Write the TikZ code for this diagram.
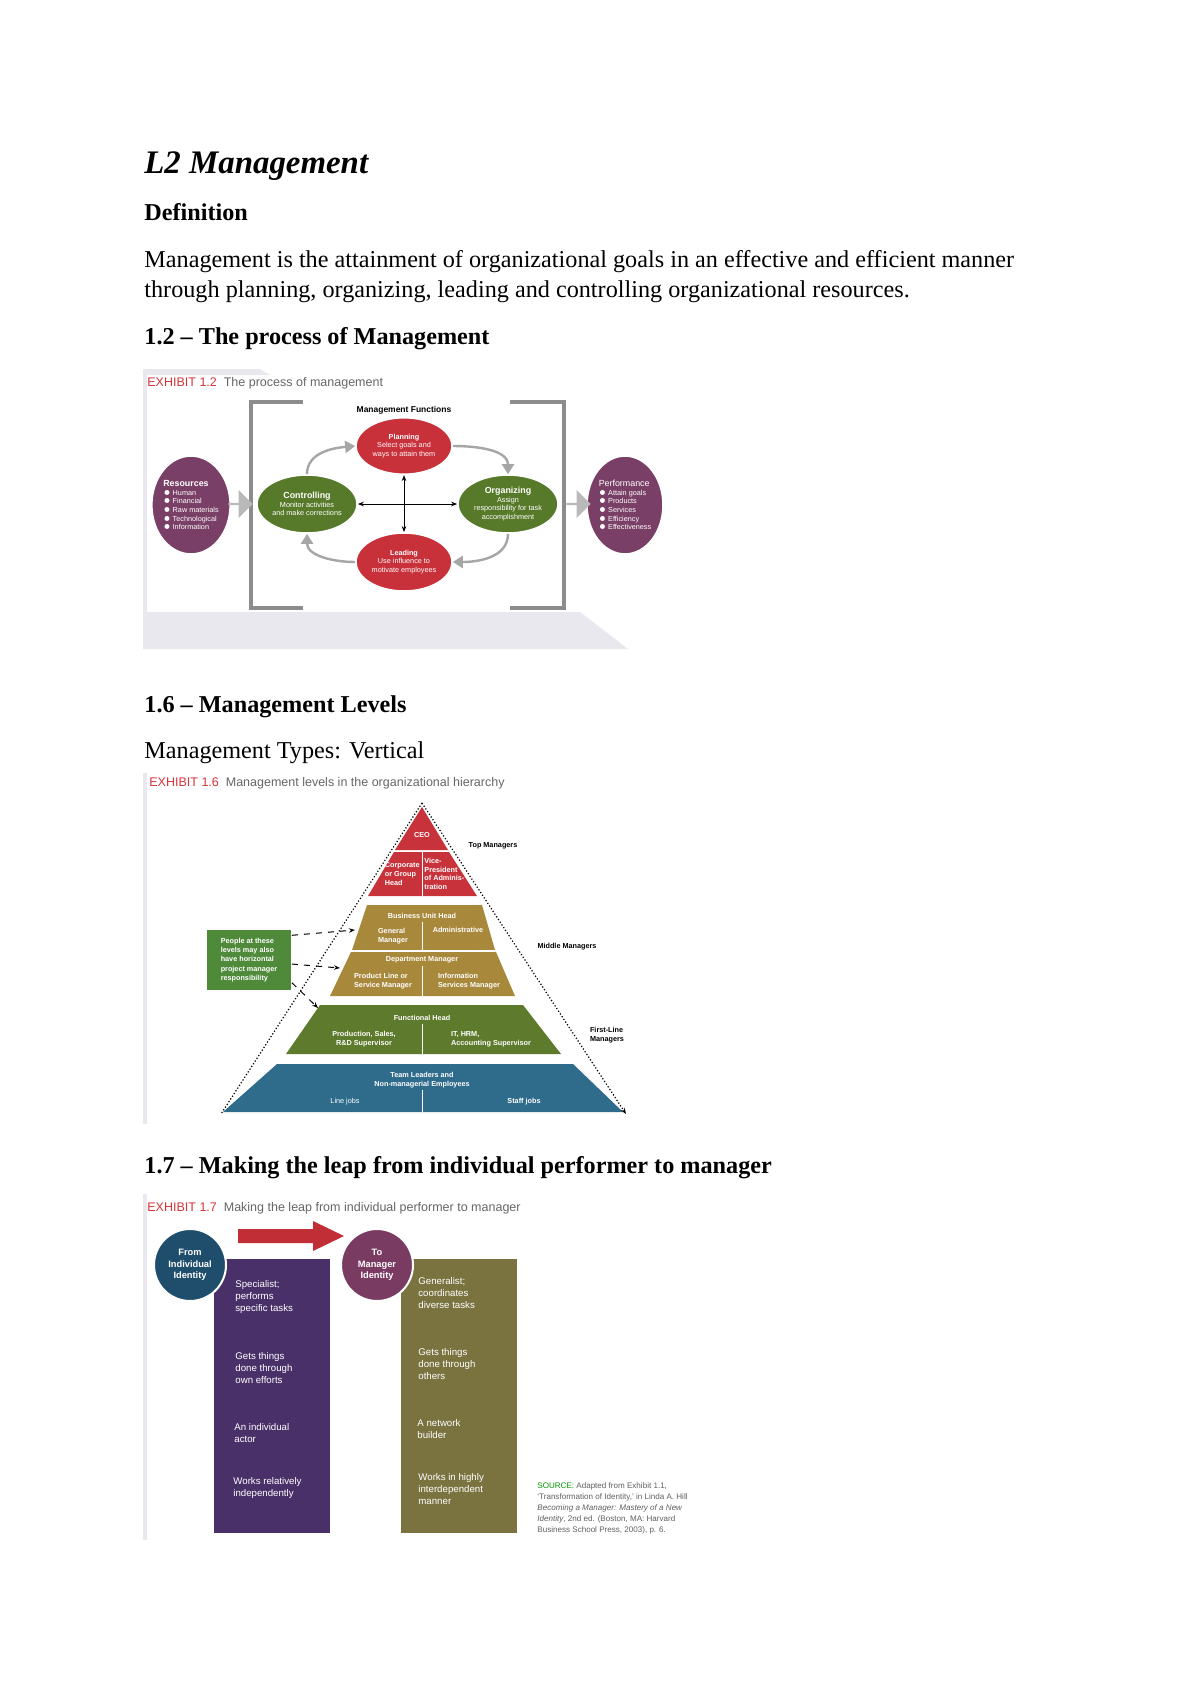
\documentclass[tikz,border=0pt]{standalone}
\usepackage{fontspec}
\setmainfont{Liberation Serif}
\setsansfont{Liberation Sans}
\usetikzlibrary{shapes.geometric,shapes.arrows,arrows.meta}
\definecolor{exred}{HTML}{D8333B}
\definecolor{ellred}{HTML}{C8303A}
\definecolor{ellgreen}{HTML}{577A2A}
\definecolor{ellpurple}{HTML}{7A3F66}
\definecolor{pyrred}{HTML}{C8333B}
\definecolor{pyrgold}{HTML}{A8893C}
\definecolor{pyrgreen}{HTML}{5E7A2C}
\definecolor{pyrblue}{HTML}{2F6C8C}
\definecolor{boxgreen}{HTML}{4E8A3A}
\definecolor{circblue}{HTML}{1F4D6C}
\definecolor{circpurple}{HTML}{7A3B62}
\definecolor{rectpurple}{HTML}{4A3068}
\definecolor{rectolive}{HTML}{7A7340}
\definecolor{bandgray}{HTML}{E8E8EE}
\definecolor{brgray}{HTML}{8C8C8C}
\tikzset{
  body/.style={anchor=base west,inner sep=0pt,font=\fontsize{12}{14}\selectfont},
  head/.style={anchor=base west,inner sep=0pt,font=\fontsize{12}{14}\selectfont\bfseries},
  extitle/.style={anchor=base west,inner sep=0pt,font=\sffamily\fontsize{6.2}{7}\selectfont,text=gray!80!black},
  ell/.style={ellipse,draw=white,line width=0.8pt,inner sep=0pt,text=white,align=center,font=\sffamily\fontsize{3.6}{4.3}\selectfont},
  grayarr/.style={draw=gray!70,line width=1.2pt,-{Triangle[length=5pt,width=6pt]}},
  blkarr/.style={black,line width=0.5pt,{Stealth[length=3pt]}-{Stealth[length=3pt]}},
  blockarr/.style={single arrow,fill=gray!55,minimum height=12pt,minimum width=14pt,single arrow head extend=2.5pt,inner sep=0pt},
  tier/.style={text=white,font=\sffamily\bfseries\fontsize{3.6}{4.3}\selectfont,align=center,inner sep=0pt},
  plabel/.style={font=\sffamily\bfseries\fontsize{3.6}{4.3}\selectfont,align=left,inner sep=0pt},
  dasharr/.style={dashed,line width=0.5pt,-{Stealth[length=3pt]}},
  rtext/.style={anchor=north west,text=white,font=\sffamily\fontsize{4.8}{6}\selectfont,align=left,inner sep=0pt},
  circ/.style={circle,draw=white,line width=1pt,minimum size=35.7pt,inner sep=0pt,text=white,align=center,font=\sffamily\bfseries\fontsize{4.6}{5.6}\selectfont},
}
\begin{document}
\begin{tikzpicture}[x=0.4958pt,y=-0.4958pt]
\useasboundingbox (0,0) rectangle (1200,1698);
\fill[white] (0,0) rectangle (1200,1698);
% text
\node[anchor=base west,inner sep=0pt,font=\fontsize{16.3}{20}\selectfont\bfseries\itshape] (title) at (144,173) {L2 Management};
\node[head] (def) at (144,220) {Definition};
\node[body] (p1) at (144,267) {Management is the attainment of organizational goals in an effective and efficient manner};
\node[body] (p2) at (144,297) {through planning, organizing, leading and controlling organizational resources.};
\node[head] (h12) at (144,344) {1.2 -- The process of Management};
\node[head] (h16) at (144,712) {1.6 -- Management Levels};
\node[body] (types) at (144,758) {Management Types: Vertical};
\node[head] (h17) at (144,1173) {1.7 -- Making the leap from individual performer to manager};

% ===== Exhibit 1.2 =====
\fill[bandgray] (143,369) rectangle (147,649);
\fill[bandgray] (143,369) -- (260,369) -- (270,375) -- (147,375) -- cycle;
\fill[bandgray] (143,612) -- (580,612) -- (628,649) -- (143,649) -- cycle;
\node[extitle] (t12) at (147,386) {\textcolor{exred}{EXHIBIT 1.2}\ \ The process of management};
\draw[brgray,line width=2.2pt] (303,402) -- (251,402) -- (251,608) -- (303,608);
\draw[brgray,line width=2.2pt] (510,402) -- (564,402) -- (564,608) -- (510,608);
\node[font=\sffamily\bfseries\fontsize{4.2}{5}\selectfont,inner sep=0pt] (mf) at (404,410) {Management Functions};
\node[ell,fill=ellred,minimum width=47.6pt,minimum height=28pt] (plan) at (404,446) {\textbf{Planning}\\Select goals and\\ways to attain them};
\node[ell,fill=ellgreen,minimum width=49.6pt,minimum height=28.8pt] (ctrl) at (307,504) {{\fontsize{4.4}{5}\selectfont\textbf{Controlling}}\\Monitor activities\\and make corrections};
\node[ell,fill=ellgreen,minimum width=49.6pt,minimum height=28.8pt] (org) at (508,504) {{\fontsize{4.4}{5}\selectfont\textbf{Organizing}}\\Assign\\responsibility for task\\accomplishment};
\node[ell,fill=ellred,minimum width=47.6pt,minimum height=28.8pt] (lead) at (404,562) {\textbf{Leading}\\Use influence to\\motivate employees};
\node[ell,fill=ellpurple,minimum width=35.7pt,minimum height=48.6pt,align=left] (res) at (191,505) {{\fontsize{4.4}{5}\selectfont\textbf{Resources}}\\$\bullet$ Human\\$\bullet$ Financial\\$\bullet$ Raw materials\\$\bullet$ Technological\\$\bullet$ Information};
\node[ell,fill=ellpurple,minimum width=37.7pt,minimum height=48.6pt,align=left] (perf) at (625,505) {{\fontsize{4.4}{5}\selectfont Performance}\\$\bullet$ Attain goals\\$\bullet$ Products\\$\bullet$ Services\\$\bullet$ Efficiency\\$\bullet$ Effectiveness};
\node[blockarr] (ba1) at (240,504) {};
\node[blockarr] (ba2) at (578,504) {};
\draw[grayarr] (ctrl.north) to[out=90,in=185] (plan.west);
\draw[grayarr] (plan.east) to[out=0,in=90] (org.north);
\draw[grayarr] (org.south) to[out=-90,in=0] (lead.east);
\draw[grayarr] (lead.west) to[out=180,in=-90] (ctrl.south);
\draw[blkarr] (ctrl.east) -- (org.west);
\draw[blkarr] (plan.south) -- (lead.north);

% ===== Exhibit 1.6 =====
\fill[bandgray] (143,773) rectangle (147,1124);
\node[extitle] (t16) at (149,786) {\textcolor{exred}{EXHIBIT 1.6}\ \ Management levels in the organizational hierarchy};
\fill[pyrred] (422,807) -- (448,850) -- (395,850) -- cycle;
\fill[pyrred] (394,852) -- (449,852) -- (477,896) -- (368,896) -- cycle;
\fill[pyrgold] (367,905) -- (482,905) -- (495,950) -- (352,950) -- cycle;
\fill[pyrgold] (351,952) -- (496,952) -- (515,996) -- (330,996) -- cycle;
\fill[pyrgreen] (320,1005) -- (523,1005) -- (561,1054) -- (286,1054) -- cycle;
\fill[pyrblue] (277,1064) -- (573,1064) -- (623,1112) -- (223,1112) -- cycle;
\draw[white,line width=0.5pt] (422,852) -- (422,896) (422,922) -- (422,950) (422,966) -- (422,996)
  (422,1024) -- (422,1054) (422,1090) -- (422,1112) (352,950.5) -- (495,950.5);
\coordinate (apex) at (422,803);
\coordinate (bl) at (221,1114);
\coordinate (br) at (626,1114);
\draw[densely dotted,line width=0.6pt] (apex) -- (bl);
\draw[densely dotted,line width=0.6pt,-{Stealth[length=3pt]}] (apex) -- (br);
\node[tier] (ceo) at (422,835) {CEO};
\node[tier,align=left,anchor=east] (corp) at (420,874) {Corporate\\or Group\\Head};
\node[tier,align=left,anchor=west] (vp) at (424,874) {Vice-\\President\\of Adminis-\\tration};
\node[tier] (buh) at (422,916) {Business Unit Head};
\node[tier,align=left] (gm) at (393,936) {General\\Manager};
\node[tier] (adm) at (458,930) {Administrative};
\node[tier] (dm) at (422,960) {Department Manager};
\node[tier,align=left] (pl) at (383,981) {Product Line or\\Service Manager};
\node[tier,align=left] (ism) at (469,981) {Information\\Services Manager};
\node[tier] (fh) at (422,1018) {Functional Head};
\node[tier] (prs) at (364,1039) {Production, Sales,\\R\&D Supervisor};
\node[tier,align=left] (it) at (491,1039) {IT, HRM,\\Accounting Supervisor};
\node[tier] (tl) at (422,1080) {Team Leaders and\\Non-managerial Employees};
\node[tier,font=\sffamily\fontsize{3.6}{4.3}\selectfont] (lj) at (345,1102) {Line jobs};
\node[tier] (sj) at (524,1102) {Staff jobs};
\node[plabel] (topm) at (493,846) {Top Managers};
\node[plabel] (midm) at (567,947) {Middle Managers};
\node[plabel] (flm) at (607,1035) {First-Line\\Managers};
\node[draw=white,line width=0.5pt,fill=boxgreen,text=white,font=\sffamily\bfseries\fontsize{3.6}{4.6}\selectfont,align=left,minimum width=42pt,minimum height=30pt,inner sep=1.5pt] (pbox) at (249,960) {People at these\\levels may also\\have horizontal\\project manager\\responsibility};
\coordinate (d1) at (355,930);
\coordinate (d2) at (340,968);
\coordinate (d3) at (318,1008);
\draw[dasharr] ([yshift=-3pt]pbox.north east) -- (d1);
\draw[dasharr] ([yshift=-2pt]pbox.east) -- (d2);
\draw[dasharr] ([yshift=4pt]pbox.south east) -- (d3);

% ===== Exhibit 1.7 =====
\fill[bandgray] (143,1194) rectangle (147,1540);
\node[extitle] (t17) at (147,1211) {\textcolor{exred}{EXHIBIT 1.7}\ \ Making the leap from individual performer to manager};
\fill[exred!90!black] (238,1229) -- (313,1229) -- (313,1221) -- (344,1236) -- (313,1251) -- (313,1243) -- (238,1243) -- cycle;
\fill[rectpurple] (214,1259) rectangle (330,1533);
\fill[rectolive] (401,1259) rectangle (517,1533);
\node[circ,fill=circblue] (from) at (190,1265) {From\\Individual\\Identity};
\node[circ,fill=circpurple] (to) at (377,1265) {To\\Manager\\Identity};
\node[rtext] (l1) at (235,1280) {Specialist;\\performs\\specific tasks};
\node[rtext] (l2) at (235,1352) {Gets things\\done through\\own efforts};
\node[rtext] (l3) at (234,1423) {An individual\\actor};
\node[rtext] (l4) at (233,1477) {Works relatively\\independently};
\node[rtext] (r1) at (418,1277) {Generalist;\\coordinates\\diverse tasks};
\node[rtext] (r2) at (418,1348) {Gets things\\done through\\others};
\node[rtext] (r3) at (417,1419) {A network\\builder};
\node[rtext] (r4) at (418,1473) {Works in highly\\interdependent\\manner};
\node[anchor=north west,inner sep=0pt,align=left,text=gray!75!black,font=\sffamily\fontsize{4}{5.5}\selectfont] (src) at (537,1482) {\textcolor{green!60!black}{SOURCE:} Adapted from Exhibit 1.1,\\`Transformation of Identity,' in Linda A. Hill\\\textit{Becoming a Manager: Mastery of a New}\\\textit{Identity}, 2nd ed. (Boston, MA: Harvard\\Business School Press, 2003), p. 6.};
\end{tikzpicture}
\end{document}
